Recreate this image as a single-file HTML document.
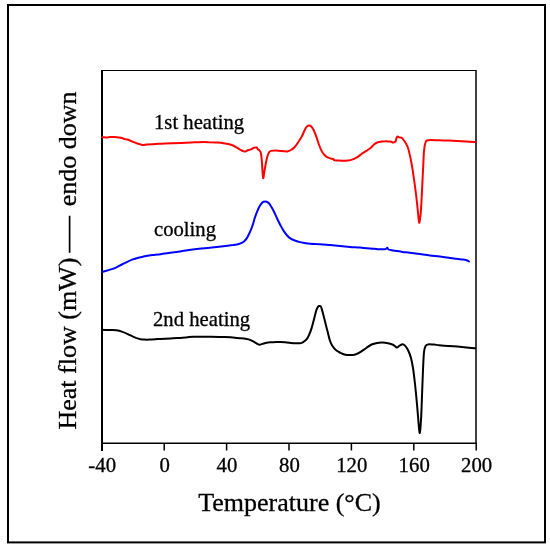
<!DOCTYPE html>
<html><head><meta charset="utf-8"><style>
html,body{margin:0;padding:0;background:#fff;width:550px;height:550px;overflow:hidden}
svg{display:block}
text{font-family:"Liberation Serif","Times New Roman",serif;fill:#000;stroke:#000;stroke-width:0.3px}
.t{font-size:20.8px}
.lb{font-size:20.7px}
.ax{font-size:26px}
.ay{font-size:26px}
</style></head><body>
<svg width="550" height="550" viewBox="0 0 550 550">
<rect x="8" y="5" width="537" height="537.4" fill="none" stroke="#000" stroke-width="2"/>
<line x1="102" y1="70.5" x2="476" y2="70.5" stroke="#000" stroke-width="1.2"/>
<line x1="476" y1="70" x2="476" y2="444" stroke="#000" stroke-width="1.5"/>
<line x1="101" y1="443.25" x2="476.7" y2="443.25" stroke="#000" stroke-width="1.5"/>
<line x1="102" y1="70" x2="102" y2="451" stroke="#000" stroke-width="2"/>
<line x1="164.2" y1="443" x2="164.2" y2="450.5" stroke="#000" stroke-width="1.5"/>
<line x1="226.6" y1="443" x2="226.6" y2="450.5" stroke="#000" stroke-width="1.5"/>
<line x1="289.0" y1="443" x2="289.0" y2="450.5" stroke="#000" stroke-width="1.5"/>
<line x1="351.4" y1="443" x2="351.4" y2="450.5" stroke="#000" stroke-width="1.5"/>
<line x1="413.8" y1="443" x2="413.8" y2="450.5" stroke="#000" stroke-width="1.5"/>
<line x1="476.2" y1="443" x2="476.2" y2="450.5" stroke="#000" stroke-width="1.5"/>
<text transform="translate(102.2,472) scale(1,1.045)" text-anchor="middle" class="t">-40</text>
<text transform="translate(164.6,472) scale(1,1.045)" text-anchor="middle" class="t">0</text>
<text transform="translate(227.0,472) scale(1,1.045)" text-anchor="middle" class="t">40</text>
<text transform="translate(289.4,472) scale(1,1.045)" text-anchor="middle" class="t">80</text>
<text transform="translate(351.8,472) scale(1,1.045)" text-anchor="middle" class="t">120</text>
<text transform="translate(414.2,472) scale(1,1.045)" text-anchor="middle" class="t">160</text>
<text transform="translate(476.6,472) scale(1,1.045)" text-anchor="middle" class="t">200</text>
<text x="289.5" y="510.5" text-anchor="middle" class="ax">Temperature (°C)</text>
<g transform="translate(75.6,429.5) rotate(-90)"><text x="0" y="0" class="ay">Heat flow (mW)</text><text x="177.3" y="0" class="ay" textLength="36" lengthAdjust="spacingAndGlyphs">—</text><text x="223.2" y="0" class="ay">endo down</text></g>
<text x="154" y="129.4" class="lb">1st heating</text>
<text x="154" y="236" class="lb">cooling</text>
<text x="153" y="326" class="lb">2nd heating</text>
<path d="M102.2 137.2 C102.9 137.2 105.0 137.4 106.5 137.4 C108.0 137.4 109.2 136.9 110.9 136.9 C112.6 136.9 114.8 137.1 116.4 137.2 C118.0 137.3 119.2 137.4 120.7 137.7 C122.2 138.0 123.6 138.7 125.1 139.1 C126.5 139.5 128.0 139.7 129.4 140.2 C130.9 140.7 132.3 141.5 133.8 142.1 C135.3 142.7 136.8 143.3 138.2 143.8 C139.6 144.3 141.1 144.8 142.5 144.9 C143.9 145.0 145.3 144.6 146.9 144.5 C148.5 144.4 150.3 144.3 152.3 144.2 C154.3 144.1 156.8 143.9 158.9 143.8 C161.0 143.7 162.7 143.6 165.0 143.5 C167.3 143.4 169.8 143.3 172.5 143.2 C175.2 143.1 178.0 143.0 181.2 142.9 C184.3 142.8 188.5 142.6 191.4 142.5 C194.3 142.4 195.7 142.2 198.6 142.2 C201.5 142.1 205.9 142.1 208.8 142.2 C211.7 142.2 213.7 142.3 216.1 142.5 C218.5 142.7 221.2 142.9 223.4 143.2 C225.6 143.5 227.6 143.8 229.2 144.2 C230.8 144.6 231.8 145.0 233.0 145.5 C234.2 146.0 235.4 146.7 236.4 147.3 C237.4 147.9 238.2 148.6 239.1 149.1 C240.0 149.6 240.9 150.1 241.8 150.5 C242.7 150.9 243.6 151.6 244.5 151.6 C245.4 151.6 246.2 150.9 247.3 150.5 C248.4 150.1 249.8 149.9 250.9 149.4 C252.0 148.9 253.1 148.0 254.1 147.7 C255.1 147.4 256.2 147.3 256.8 147.5 C257.4 147.7 257.2 148.6 257.7 149.1 C258.1 149.6 259.0 149.8 259.5 150.5 C260.0 151.2 260.5 151.5 260.9 153.2 C261.3 154.9 261.5 157.5 261.8 160.5 C262.1 163.5 262.3 168.4 262.5 171.4 C262.7 174.4 262.9 178.0 263.2 178.3 C263.5 178.6 263.7 175.4 264.1 173.2 C264.5 171.0 265.0 167.7 265.5 165.0 C266.0 162.3 266.7 158.9 267.3 156.8 C267.9 154.7 268.5 153.3 269.1 152.3 C269.7 151.3 269.8 151.2 270.9 150.9 C272.0 150.6 274.0 150.6 275.5 150.6 C277.0 150.6 278.6 150.8 280.0 150.9 C281.4 151.0 282.4 151.1 283.6 151.2 C284.8 151.3 286.1 151.6 287.3 151.4 C288.5 151.2 289.7 150.7 290.9 150.0 C292.1 149.3 293.3 148.6 294.5 147.3 C295.7 146.0 297.0 144.1 298.2 142.3 C299.4 140.5 300.8 138.4 301.8 136.4 C302.9 134.4 303.7 132.1 304.5 130.5 C305.3 128.9 306.0 127.4 306.8 126.6 C307.6 125.8 308.3 125.4 309.1 125.4 C309.9 125.4 310.6 125.8 311.4 126.6 C312.1 127.4 312.8 128.3 313.6 130.0 C314.4 131.7 315.5 134.3 316.4 136.8 C317.3 139.3 318.2 142.6 319.1 145.0 C320.0 147.4 320.9 149.7 321.8 151.4 C322.7 153.1 323.4 153.9 324.5 155.0 C325.6 156.1 327.0 157.1 328.2 157.7 C329.4 158.3 330.9 158.6 331.8 158.8 C332.7 159.0 333.2 158.8 333.6 159.1 C334.1 159.4 333.7 160.2 334.5 160.4 C335.3 160.6 336.7 160.4 338.2 160.5 C339.7 160.6 341.9 160.8 343.6 160.8 C345.3 160.8 346.7 160.7 348.2 160.5 C349.7 160.3 351.3 159.9 352.7 159.4 C354.1 158.9 355.0 158.5 356.4 157.7 C357.8 156.9 359.4 155.6 360.9 154.5 C362.4 153.4 364.4 152.2 365.5 151.4 C366.6 150.7 366.8 150.6 367.7 150.0 C368.6 149.4 369.8 148.6 370.9 147.7 C372.0 146.8 373.1 145.3 374.1 144.5 C375.1 143.7 375.7 143.1 376.8 142.7 C377.9 142.2 379.1 142.1 380.5 141.8 C381.9 141.6 383.5 141.2 385.0 141.2 C386.5 141.1 388.4 141.4 389.5 141.5 C390.6 141.6 390.8 141.6 391.4 141.8 C392.0 142.0 392.5 142.6 393.2 142.5 C393.9 142.4 395.0 142.1 395.5 141.4 C396.0 140.7 396.1 139.2 396.4 138.4 C396.7 137.6 396.9 136.8 397.3 136.6 C397.8 136.4 398.4 137.1 399.1 137.3 C399.8 137.5 400.6 137.2 401.4 137.7 C402.1 138.1 402.9 139.0 403.6 140.0 C404.4 141.0 405.2 142.4 405.9 143.6 C406.6 144.8 407.1 145.3 407.7 147.0 C408.3 148.7 408.9 151.0 409.5 153.6 C410.1 156.2 410.8 159.4 411.4 162.7 C412.0 166.0 412.6 169.6 413.2 173.6 C413.8 177.6 414.4 181.8 415.0 186.4 C415.6 191.0 416.3 196.4 416.8 200.9 C417.3 205.4 417.7 209.9 418.1 213.6 C418.5 217.2 418.8 222.5 419.2 222.8 C419.6 223.1 420.1 218.8 420.5 215.5 C420.9 212.2 421.1 207.9 421.4 202.7 C421.7 197.5 422.0 190.6 422.3 184.5 C422.6 178.4 422.9 172.2 423.2 166.4 C423.5 160.7 423.7 153.9 424.1 150.0 C424.5 146.1 424.9 144.3 425.4 142.7 C425.8 141.1 425.9 140.9 426.8 140.5 C427.7 140.1 428.4 140.0 430.5 140.0 C432.6 140.0 436.2 140.2 439.1 140.3 C442.1 140.4 445.2 140.5 448.2 140.6 C451.2 140.7 454.3 140.8 457.3 140.9 C460.3 141.1 463.4 141.3 466.4 141.5 C469.3 141.7 473.6 142.0 475.0 142.1" fill="none" stroke="#ff0000" stroke-width="2" stroke-linejoin="round" stroke-linecap="round"/>
<path d="M102.2 271.8 C102.9 271.6 105.0 271.2 106.5 270.8 C108.0 270.4 109.2 270.0 110.9 269.4 C112.6 268.8 114.6 268.1 116.4 267.3 C118.2 266.5 120.0 265.4 121.8 264.5 C123.6 263.6 125.5 262.7 127.3 261.8 C129.1 260.9 130.9 260.1 132.7 259.4 C134.5 258.7 136.4 258.3 138.2 257.8 C140.0 257.3 141.8 257.0 143.6 256.6 C145.4 256.2 147.2 255.9 149.1 255.6 C151.0 255.3 152.8 255.1 155.0 254.8 C157.2 254.5 159.4 254.2 162.0 253.9 C164.6 253.6 166.5 253.4 170.5 252.8 C174.5 252.2 180.8 251.2 185.9 250.5 C191.1 249.8 196.2 249.2 201.4 248.6 C206.6 248.0 212.4 247.6 216.8 247.1 C221.2 246.6 224.9 246.1 227.6 245.8 C230.3 245.5 231.3 245.3 233.0 245.1 C234.7 244.8 236.7 244.6 238.0 244.3 C239.3 244.0 240.0 243.7 241.0 243.2 C242.0 242.7 243.0 242.4 244.0 241.5 C245.0 240.6 246.2 239.1 247.2 237.6 C248.1 236.1 248.8 234.4 249.7 232.5 C250.5 230.6 251.5 228.6 252.3 226.2 C253.2 223.8 254.0 220.4 254.8 217.9 C255.7 215.4 256.5 212.9 257.4 210.9 C258.2 208.9 259.0 207.2 259.9 205.8 C260.8 204.4 261.6 203.1 262.5 202.4 C263.4 201.7 264.1 201.5 265.0 201.5 C265.9 201.5 267.2 201.9 268.2 202.6 C269.1 203.3 269.8 204.3 270.7 205.8 C271.6 207.3 272.8 209.4 273.9 211.5 C275.0 213.6 276.0 216.3 277.1 218.5 C278.2 220.7 279.2 222.9 280.3 224.9 C281.4 226.9 282.3 228.8 283.5 230.6 C284.7 232.4 286.0 234.3 287.3 235.7 C288.6 237.1 289.7 238.1 291.1 238.9 C292.5 239.8 294.0 240.3 295.5 240.8 C297.0 241.3 298.4 241.7 300.0 242.1 C301.6 242.5 303.3 242.7 305.0 243.0 C306.7 243.3 307.5 243.5 310.0 243.7 C312.5 243.9 316.7 244.0 320.0 244.2 C323.3 244.4 326.7 244.8 330.0 245.1 C333.3 245.4 336.7 245.7 340.0 246.0 C343.3 246.3 346.7 246.6 350.0 246.9 C353.3 247.2 356.7 247.3 360.0 247.6 C363.3 247.9 367.6 248.3 370.0 248.5 C372.4 248.7 372.9 248.7 374.4 248.8 C375.8 248.9 377.0 249.2 378.7 249.3 C380.4 249.4 383.2 249.3 384.5 249.2 C385.8 249.1 385.9 248.8 386.4 248.5 C386.9 248.2 386.9 247.5 387.3 247.7 C387.7 247.9 387.8 249.1 388.5 249.5 C389.2 249.9 390.3 250.0 391.8 250.3 C393.3 250.6 395.8 250.8 397.6 251.1 C399.4 251.4 400.6 251.6 402.7 251.9 C404.8 252.2 407.1 252.4 410.0 252.8 C412.9 253.2 416.7 253.6 420.0 254.1 C423.3 254.6 426.7 255.2 430.0 255.6 C433.3 256.0 436.7 256.0 440.0 256.4 C443.3 256.8 446.7 257.4 450.0 257.9 C453.3 258.4 457.3 258.8 460.0 259.2 C462.7 259.6 464.5 259.6 466.0 260.0 C467.5 260.4 468.5 261.2 469.0 261.5" fill="none" stroke="#0000ff" stroke-width="2" stroke-linejoin="round" stroke-linecap="round"/>
<path d="M102.2 329.7 C102.9 329.8 105.0 329.9 106.5 330.0 C108.0 330.1 109.2 329.9 110.9 330.0 C112.6 330.1 114.6 330.0 116.4 330.3 C118.2 330.6 120.0 331.0 121.8 331.6 C123.6 332.2 125.7 333.1 127.3 333.8 C128.9 334.5 130.2 335.2 131.6 335.9 C133.0 336.6 134.6 337.3 136.0 337.9 C137.4 338.4 138.9 338.9 140.3 339.2 C141.8 339.5 143.0 339.6 144.7 339.6 C146.3 339.7 148.4 339.6 150.2 339.5 C152.0 339.4 154.0 339.3 155.6 339.2 C157.2 339.1 157.5 339.0 160.0 338.9 C162.5 338.8 166.2 338.6 170.5 338.4 C174.8 338.1 182.1 337.7 185.9 337.4 C189.8 337.1 189.7 336.9 193.6 336.8 C197.5 336.7 203.9 336.6 209.1 336.7 C214.3 336.8 220.3 336.9 224.6 337.1 C228.9 337.3 232.5 337.5 235.0 337.7 C237.5 337.9 238.0 338.1 239.5 338.2 C241.0 338.3 242.6 338.3 244.1 338.5 C245.6 338.7 247.1 338.9 248.6 339.4 C250.1 339.9 251.8 340.7 253.2 341.4 C254.6 342.1 255.8 343.1 256.8 343.6 C257.8 344.2 258.5 344.6 259.4 344.7 C260.3 344.8 261.1 344.2 262.3 343.9 C263.5 343.6 265.3 343.0 266.8 342.7 C268.3 342.4 269.9 342.4 271.4 342.3 C272.9 342.2 274.4 342.2 275.9 342.1 C277.4 342.0 279.0 341.9 280.5 341.9 C282.0 341.9 283.3 342.0 285.0 342.2 C286.7 342.4 288.9 342.7 290.9 342.9 C292.9 343.1 295.0 343.2 296.8 343.2 C298.6 343.2 300.4 343.1 301.5 342.9 C302.6 342.6 302.8 342.3 303.7 341.7 C304.6 341.1 305.8 340.4 306.7 339.2 C307.6 338.0 308.4 336.5 309.2 334.6 C310.0 332.8 310.8 330.7 311.6 328.1 C312.4 325.5 313.2 322.1 314.0 319.2 C314.8 316.2 315.6 312.5 316.3 310.4 C317.0 308.3 317.6 307.3 318.1 306.6 C318.6 305.9 318.8 306.0 319.3 306.0 C319.8 306.0 320.4 305.7 321.0 306.8 C321.6 307.9 322.1 310.1 322.8 312.7 C323.5 315.3 324.4 319.0 325.2 322.2 C326.0 325.4 326.8 328.6 327.6 331.6 C328.4 334.7 329.1 338.1 329.9 340.5 C330.7 342.9 331.3 344.2 332.3 345.8 C333.3 347.4 334.4 348.8 335.8 350.0 C337.2 351.2 339.2 352.1 340.6 352.9 C342.0 353.6 342.9 354.1 344.4 354.5 C345.9 354.9 348.0 355.1 349.8 355.1 C351.6 355.1 353.5 355.1 355.3 354.5 C357.1 353.9 358.9 352.9 360.7 351.8 C362.5 350.7 364.4 349.2 366.2 348.0 C368.0 346.8 369.8 345.4 371.6 344.5 C373.4 343.6 375.3 343.2 377.1 342.9 C378.9 342.6 380.7 342.4 382.5 342.5 C384.3 342.6 386.2 342.9 388.0 343.3 C389.8 343.7 391.9 344.3 393.4 345.0 C394.9 345.7 395.9 347.4 396.8 347.6 C397.7 347.8 398.0 346.7 398.9 346.1 C399.8 345.5 401.4 344.3 402.4 344.2 C403.4 344.1 404.1 344.6 405.0 345.6 C405.9 346.6 407.0 347.9 408.0 350.0 C409.0 352.1 410.2 355.0 411.0 358.0 C411.8 361.0 412.3 363.7 413.0 368.0 C413.7 372.3 414.4 378.7 415.0 384.0 C415.6 389.3 416.1 394.7 416.6 400.0 C417.1 405.3 417.5 410.5 418.0 416.0 C418.5 421.5 419.1 432.3 419.6 433.0 C420.1 433.7 420.6 426.2 421.0 420.0 C421.4 413.8 421.7 404.3 422.0 396.0 C422.3 387.7 422.7 377.3 423.0 370.0 C423.3 362.7 423.6 356.0 424.0 352.0 C424.4 348.0 424.9 347.3 425.6 346.0 C426.3 344.7 426.6 344.6 428.0 344.4 C429.4 344.2 432.1 344.5 434.0 344.6 C435.9 344.7 436.7 345.0 439.1 345.2 C441.5 345.4 445.2 345.7 448.2 345.9 C451.2 346.1 454.3 346.3 457.3 346.6 C460.3 346.9 463.4 347.2 466.4 347.5 C469.3 347.8 473.6 348.2 475.0 348.3" fill="none" stroke="#000" stroke-width="2" stroke-linejoin="round" stroke-linecap="round"/>
</svg>
</body></html>
